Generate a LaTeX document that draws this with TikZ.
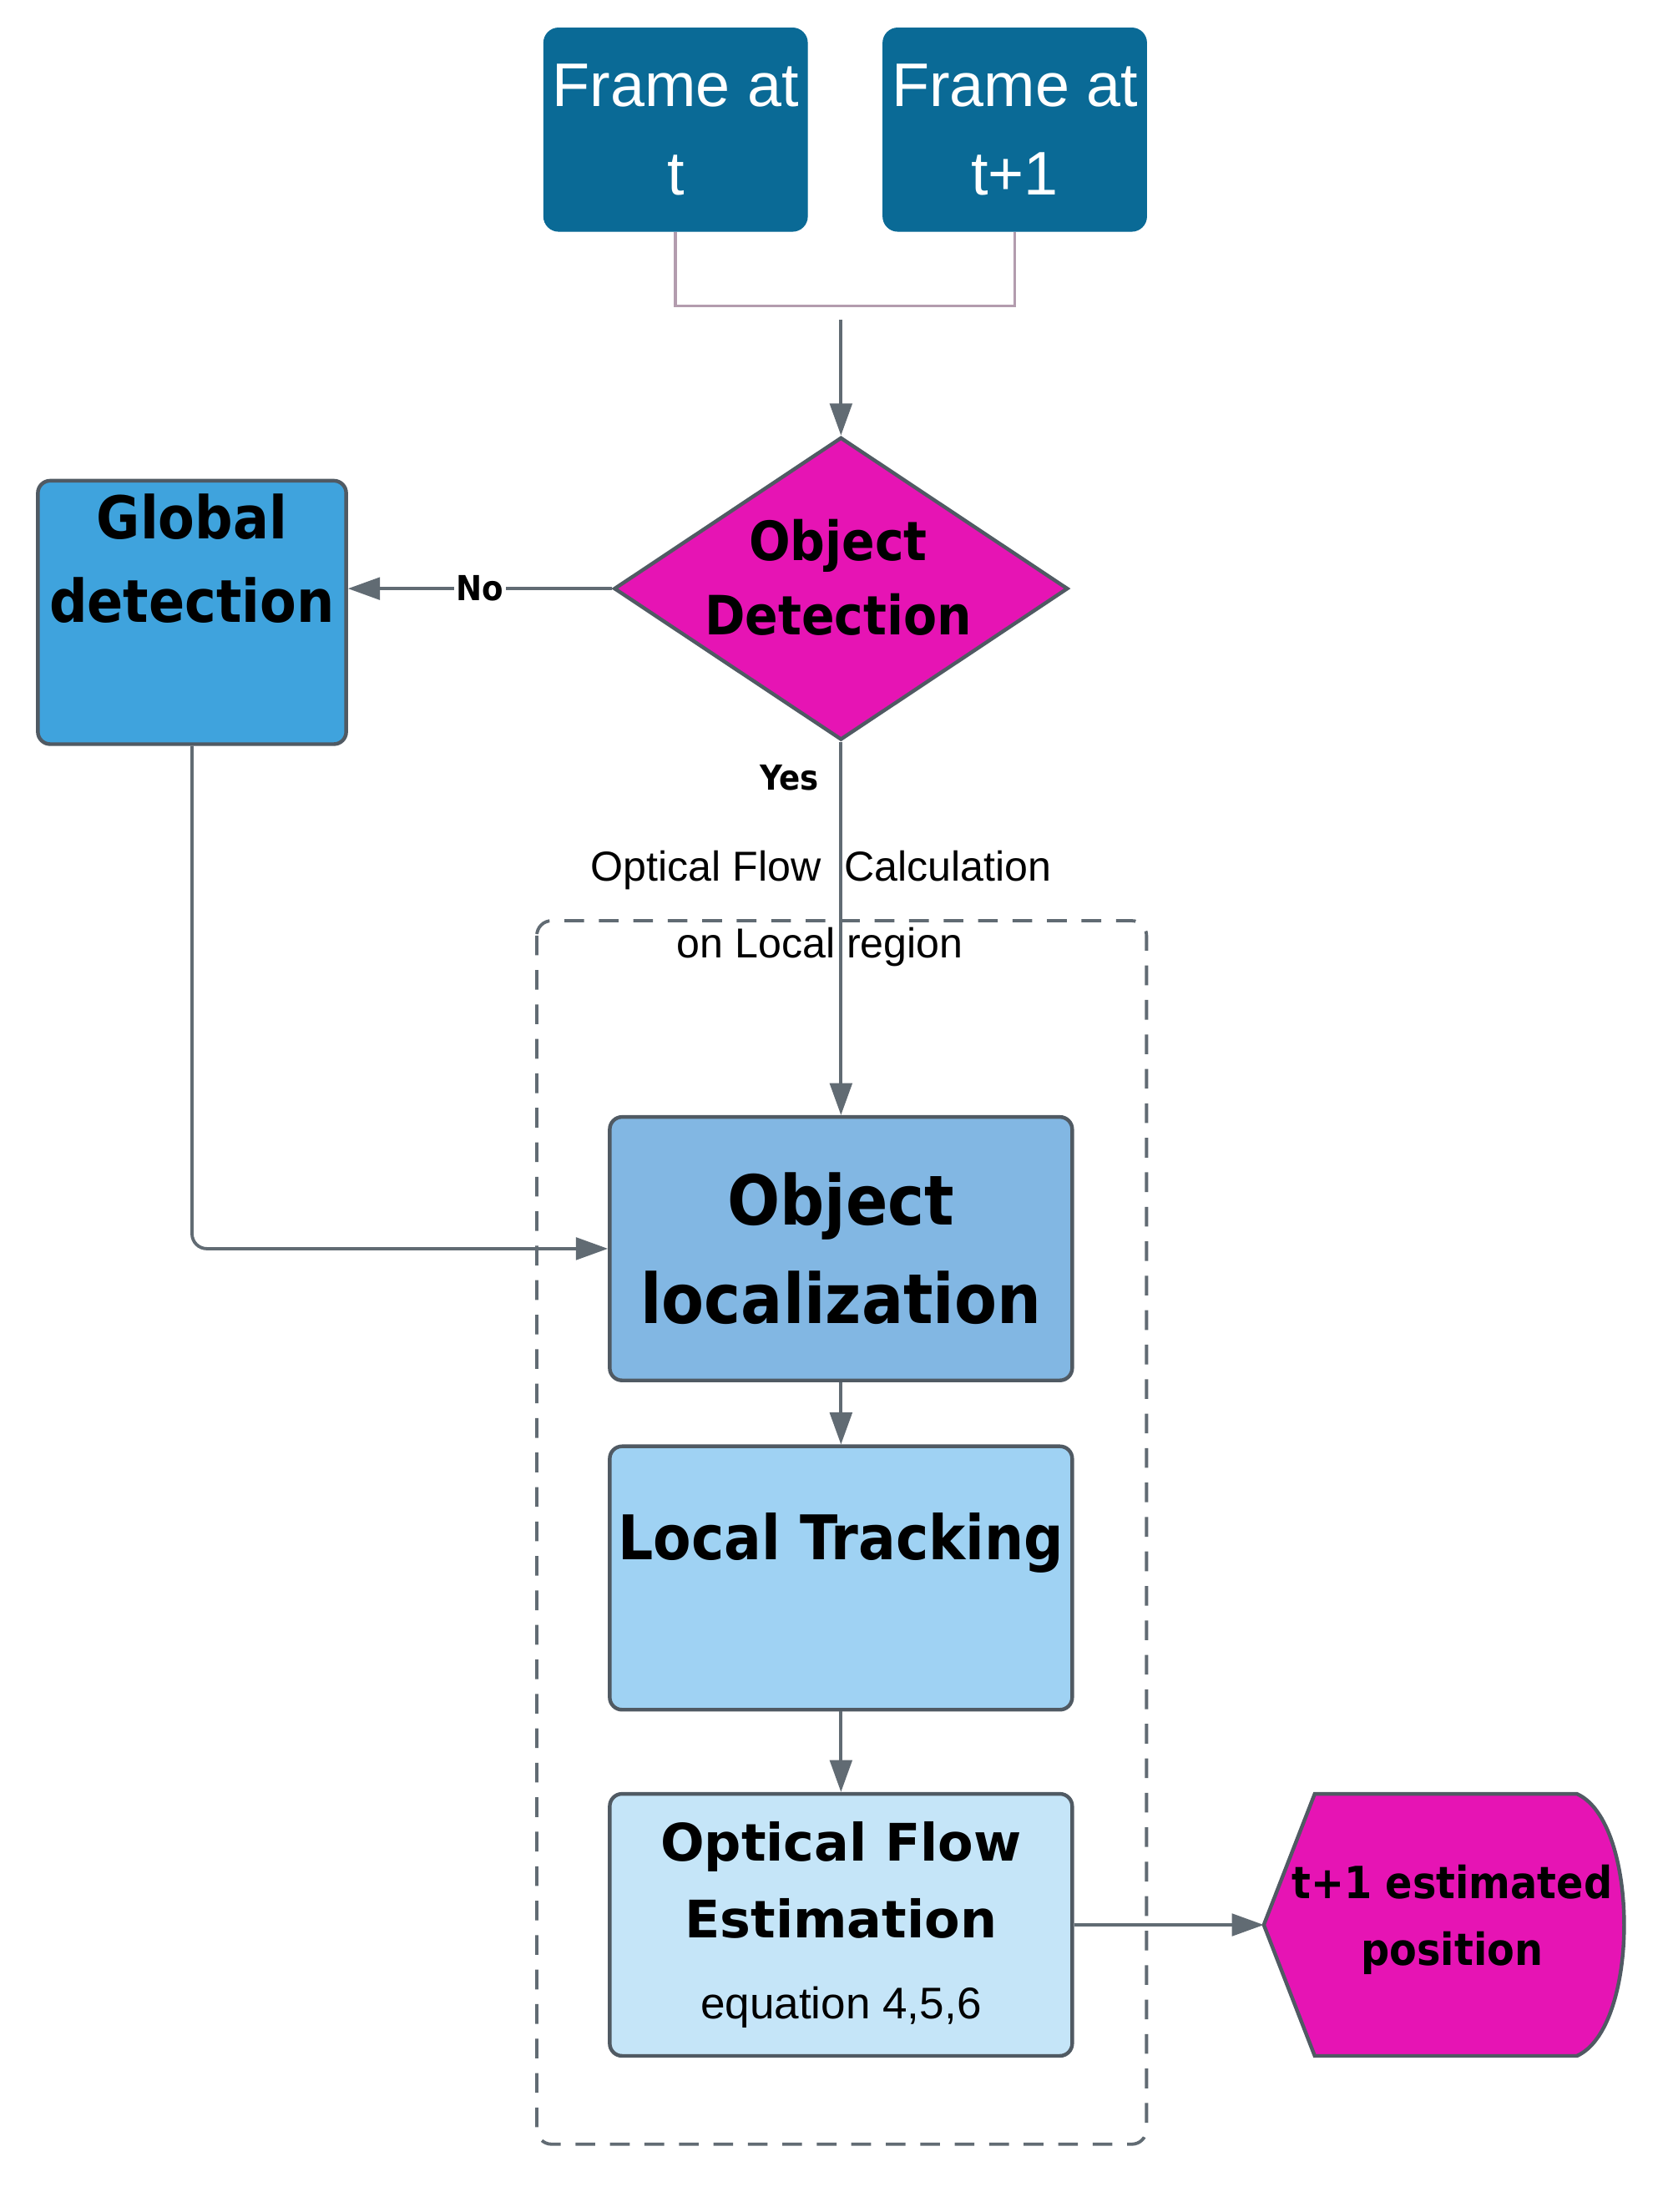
\documentclass[tikz,border=0pt]{standalone}
\usepackage{fontspec}
\setmainfont{Liberation Sans}
\newfontfamily\cond{DejaVu Sans Condensed}
\newfontfamily\dvs{DejaVu Sans}
\usetikzlibrary{arrows.meta,shapes.geometric}
\definecolor{frameblue}{HTML}{0A6A96}
\definecolor{globblue}{HTML}{3FA3DD}
\definecolor{locblue}{HTML}{82B7E3}
\definecolor{trkblue}{HTML}{9FD2F3}
\definecolor{ofeblue}{HTML}{C5E5F8}
\definecolor{mag}{HTML}{E614B4}
\definecolor{edge}{HTML}{505A63}
\definecolor{brk}{HTML}{B39CAE}
\tikzset{
  box/.style={draw=edge, line width=1.5pt, rounded corners=5pt, inner sep=0pt, align=center, minimum width=6.6cm, minimum height=3.76cm},
  fbox/.style={fill=frameblue, draw=frameblue, rounded corners=6pt, inner sep=0pt, align=center, text=white, minimum width=3.76cm, minimum height=2.9cm, font=\fontsize{25}{36}\selectfont},
  arr/.style={draw=edge!90, line width=1.3pt, -{Triangle[length=13pt,width=9pt]}},
  lbl/.style={font=\cond\bfseries\fontsize{14}{16}\selectfont, fill=white, inner sep=1pt},
}
\begin{document}
\begin{tikzpicture}[x=0.02cm,y=-0.02cm]
\useasboundingbox[fill=white] (0,0) rectangle (1190,1578.4);
\node[fbox] (ft) at (482,92.5) {Frame at\\t};
\node[fbox] (ft1) at (724,92.5) {Frame at\\t+1};
\coordinate (join) at (600,228);
\draw[brk, line width=1.3pt] (ft.south) -- ++(0,53) -| (ft1.south);
\node[diamond, draw=edge, line width=1.5pt, fill=mag, minimum width=6.48cm, minimum height=4.32cm, inner sep=0pt] (od) at (600,420) {};
\node[align=center, font=\cond\bfseries\fontsize{22}{30}\selectfont] (odt) at (598,412) {Object\\Detection};
\draw[arr] (join) -- (od.north);
\node[box, fill=globblue, minimum width=4.4cm, minimum height=3.76cm, font=\cond\bfseries\fontsize{24}{34}\selectfont] (gd) at (137,437) {Global\\detection\\[10pt]\mbox{}};
\draw[arr] (od.west) -- node[lbl, pos=0.5] (no) {No} (od.west -| gd.east);
\draw[draw=edge!90, line width=1.3pt, dash pattern=on 8pt off 6pt, rounded corners=6pt] (383,657) rectangle (818,1530);
\node[box, fill=locblue, font=\cond\bfseries\fontsize{28}{40}\selectfont] (ol) at (600,891) {Object\\localization};
\node[box, fill=trkblue, font=\cond\bfseries\fontsize{25}{34}\selectfont] (lt) at (600,1126) {Local Tracking\\[0pt]\mbox{}};
\node[box, fill=ofeblue, minimum height=3.74cm, font=\dvs\bfseries\fontsize{21}{31}\selectfont] (ofe) at (600,1373.5) {Optical Flow\\Estimation\\[2pt]\normalfont\fontsize{18}{24}\selectfont equation 4,5,6};
\draw[arr] (od.south) -- (ol.north);
\node[lbl, fill=none] (yes) at (563,555) {Yes};
\node[font=\fontsize{17}{27}\selectfont] (ofc) at (586,621) {Optical Flow~~Calculation};
\node[font=\fontsize{17}{27}\selectfont] (olr) at (585,676) {on Local region};
\draw[arr, rounded corners=6pt] (gd.south) |- (ol.west);
\draw[arr] (ol.south) -- (lt.north);
\draw[arr] (lt.south) -- (ofe.north);
\node[minimum width=5.16cm, minimum height=3.74cm, inner sep=0pt] (hex) at (1031,1373.5) {};
\draw[draw=edge, line width=1.5pt, fill=mag] (hex.west) -- (938,1280) -- (1125,1280) .. controls (1170,1300) and (1170,1447) .. (1125,1467) -- (938,1467) -- cycle;
\node[font=\cond\bfseries\fontsize{18}{27}\selectfont, align=center] (hext) at (1036,1370) {t+1 estimated\\position};
\draw[arr] (ofe.east) -- (hex.west);
\end{tikzpicture}
\end{document}
